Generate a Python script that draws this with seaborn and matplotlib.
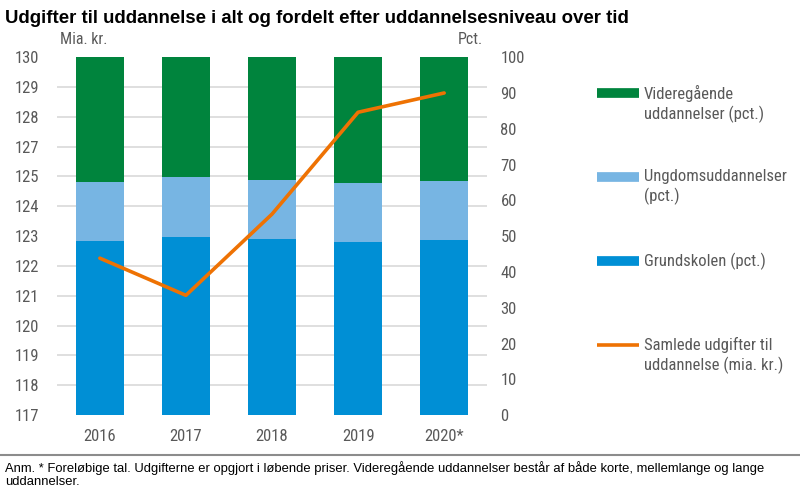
import numpy as np
import matplotlib
matplotlib.use("Agg")
import matplotlib.pyplot as plt
from matplotlib import font_manager
from matplotlib.lines import Line2D
import seaborn as sns

# --- data ---
years = ["2016", "2017", "2018", "2019", "2020*"]
grundskolen = [48.6, 49.8, 49.1, 48.3, 49.0]
ungdom = [16.4, 16.7, 16.7, 16.5, 16.4]
videregaaende = [35.0, 33.5, 34.2, 35.2, 34.6]
samlede = [122.7, 121.35, 124.3, 128.0, 128.7]

left_labels = ["117", "118", "119", "120", "121", "122", "123",
               "124", "125", "127", "128", "129", "130"]
right_ticks = list(range(0, 101, 10))

C_VID = "#00843D"
C_UNG = "#77B5E3"
C_GRU = "#008FD5"
C_LINE = "#EE7203"
GREY_TXT = "#595959"
GRID = "#D9D9D9"
PLAIN = ["Liberation Sans", "DejaVu Sans"]

sns.set_style("white")

# narrow face like the original if installed, else plain Liberation Sans
names = {f.name for f in font_manager.fontManager.ttflist}
narrow = "Roboto Condensed" in names
plt.rcParams["font.family"] = (["Roboto Condensed"] if narrow else []) + PLAIN
TS = 12 if narrow else 11

fig = plt.figure(figsize=(8, 4.93), dpi=100)
ax = fig.add_axes([0.071, 0.158, 0.538, 0.726])

# stacked bars (pct) drawn as cumulative overlays
top_all = np.array(grundskolen) + np.array(ungdom) + np.array(videregaaende)
mid = np.array(grundskolen) + np.array(ungdom)
for vals, col in [(top_all, C_VID), (mid, C_UNG), (grundskolen, C_GRU)]:
    sns.barplot(x=years, y=vals, color=col, saturation=1, width=0.55,
                linewidth=0, ax=ax)

ax.set_xlim(-0.5, len(years) - 0.5)
ax.set_ylim(0, 100)
ax.set_xlabel("")
ax.set_ylabel("")
for s in ax.spines.values():
    s.set_visible(False)

# line on the left (mia. kr.) axis
ax_l = ax.twinx()
sns.lineplot(x=np.arange(len(years)), y=samlede, color=C_LINE, linewidth=2.6, ax=ax_l)
ax_l.set_ylim(117, 130)
ax_l.yaxis.tick_left()
ax_l.set_yticks(np.linspace(117, 130, len(left_labels)))
ax_l.set_yticklabels(left_labels)
ax_l.tick_params(axis="y", length=0, pad=12.5, labelsize=TS, colors=GREY_TXT)
ax_l.set_ylabel("")
ax_l.grid(False)
for s in ax_l.spines.values():
    s.set_visible(False)

# pct ticks on the right (after twinx, which moves them left)
ax.yaxis.tick_right()
ax.set_yticks(right_ticks)
ax.set_yticklabels([str(t) for t in right_ticks])
ax.set_yticks(np.linspace(0, 100, len(left_labels)), minor=True)
ax.grid(False, which="major")
ax.yaxis.grid(True, which="minor", color=GRID, linewidth=1.2)
ax.set_axisbelow(True)
ax.tick_params(axis="y", which="both", length=0, pad=9.5, labelsize=TS, colors=GREY_TXT)
ax.tick_params(axis="x", length=0, pad=10, labelsize=TS, colors=GREY_TXT)

# axis unit labels
fig.text(0.075, 0.905, "Mia. kr.", fontsize=TS - 0.5, color=GREY_TXT, ha="left", va="bottom")
fig.text(0.603, 0.905, "Pct.", fontsize=TS - 0.5, color=GREY_TXT, ha="right", va="bottom")

# title
fig.text(0.006, 0.98, "Udgifter til uddannelse i alt og fordelt efter uddannelsesniveau over tid",
         fontsize=13.4, fontweight="bold", color="black", ha="left", va="top",
         family=PLAIN)

# legend (manual)
legend_items = [
    (C_VID, 7, "Videregående\nuddannelser (pct.)"),
    (C_UNG, 7, "Ungdomsuddannelser\n(pct.)"),
    (C_GRU, 7, "Grundskolen (pct.)"),
    (C_LINE, 2.6, "Samlede udgifter til\nuddannelse (mia. kr.)"),
]
y0 = 1 - 93 / 493
step = 84 / 493
for i, (c, lw, lab) in enumerate(legend_items):
    yy = y0 - i * step
    fig.add_artist(Line2D([597 / 800, 639 / 800], [yy, yy], color=c, linewidth=lw,
                          solid_capstyle="butt", transform=fig.transFigure))
    fig.text(644 / 800, yy + 0.016, lab, fontsize=TS, color=GREY_TXT,
             ha="left", va="top", linespacing=1.3)

# footnote
fig.add_artist(Line2D([0, 1], [1 - 455 / 493, 1 - 455 / 493], color="#8C8C8C",
                      linewidth=1.5, transform=fig.transFigure))
fig.text(0.006, 1 - 461 / 493,
         "Anm. * Foreløbige tal. Udgifterne er opgjort i løbende priser. Videregående uddannelser består af både korte, mellemlange og lange\nuddannelser.",
         fontsize=9.4, color="black", ha="left", va="top", linespacing=1.1,
         family=PLAIN)

fig.savefig("out.png", dpi=100)
